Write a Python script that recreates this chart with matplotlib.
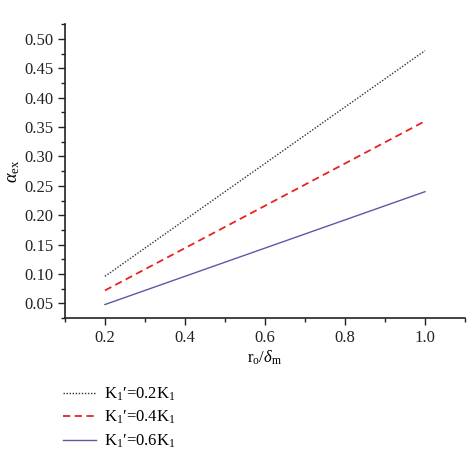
import matplotlib
matplotlib.use('Agg')
import matplotlib.pyplot as plt
from matplotlib.ticker import MultipleLocator

# data
ratio = [0.2, 0.4, 0.6, 0.8, 1.0]
alpha_02 = [0.096, 0.192, 0.288, 0.384, 0.480]
alpha_04 = [0.072, 0.144, 0.216, 0.288, 0.360]
alpha_06 = [0.048, 0.096, 0.144, 0.192, 0.240]
labels = ["K$_1$\u2032=0.2K$_1$", "K$_1$\u2032=0.4K$_1$", "K$_1$\u2032=0.6K$_1$"]

plt.rcParams['font.family'] = ['Liberation Serif', 'DejaVu Serif']
plt.rcParams['mathtext.fontset'] = 'custom'
plt.rcParams['mathtext.rm'] = 'Liberation Serif'
plt.rcParams['mathtext.it'] = 'Liberation Serif:italic'

fig = plt.figure(figsize=(4.74, 4.74), dpi=100)
ax = fig.add_axes([0.137, 0.329, 0.844, 0.620])

l1, = ax.plot(ratio, alpha_02, color='#333333', linestyle=(0, (1, 1.2)), linewidth=1.0)
l2, = ax.plot(ratio, alpha_04, color='#e8231f', linestyle=(0, (4, 2.5)), linewidth=1.3)
l3, = ax.plot(ratio, alpha_06, color='#5a5aa6', linestyle='-', linewidth=1.0)

ax.set_xlim(0.1, 1.1)
ax.set_ylim(0.025, 0.525)
ax.xaxis.set_minor_locator(MultipleLocator(0.1))
ax.yaxis.set_minor_locator(MultipleLocator(0.025))
ax.set_xticks([0.2, 0.4, 0.6, 0.8, 1.0])
ax.set_xticklabels(['0.2', '0.4', '0.6', '0.8', '1.0'])
yt = [0.05, 0.10, 0.15, 0.20, 0.25, 0.30, 0.35, 0.40, 0.45, 0.50]
ax.set_yticks(yt)
ax.set_yticklabels(['%.2f' % v for v in yt])

for s in ['top', 'right']:
    ax.spines[s].set_visible(False)
for s in ['left', 'bottom']:
    ax.spines[s].set_linewidth(1.2)
    ax.spines[s].set_color('#222222')

ax.tick_params(which='major', direction='out', length=5, width=1.0, labelsize=12, colors='#222222')
ax.tick_params(which='minor', direction='out', length=3, width=1.0, colors='#222222')

ax.set_xlabel(r'r$_\mathrm{o}$/$\delta_\mathrm{m}$', fontsize=12, labelpad=2)
ax.set_ylabel(r'$\alpha_\mathrm{ex}$', fontsize=13, labelpad=1)

fig.legend([l1, l2, l3], labels, loc='upper left', bbox_to_anchor=(0.118, 0.20),
           frameon=False, fontsize=12, handlelength=2.0, handletextpad=0.5,
           labelspacing=0.35, borderaxespad=0)

fig.savefig('out.png', dpi=100)
